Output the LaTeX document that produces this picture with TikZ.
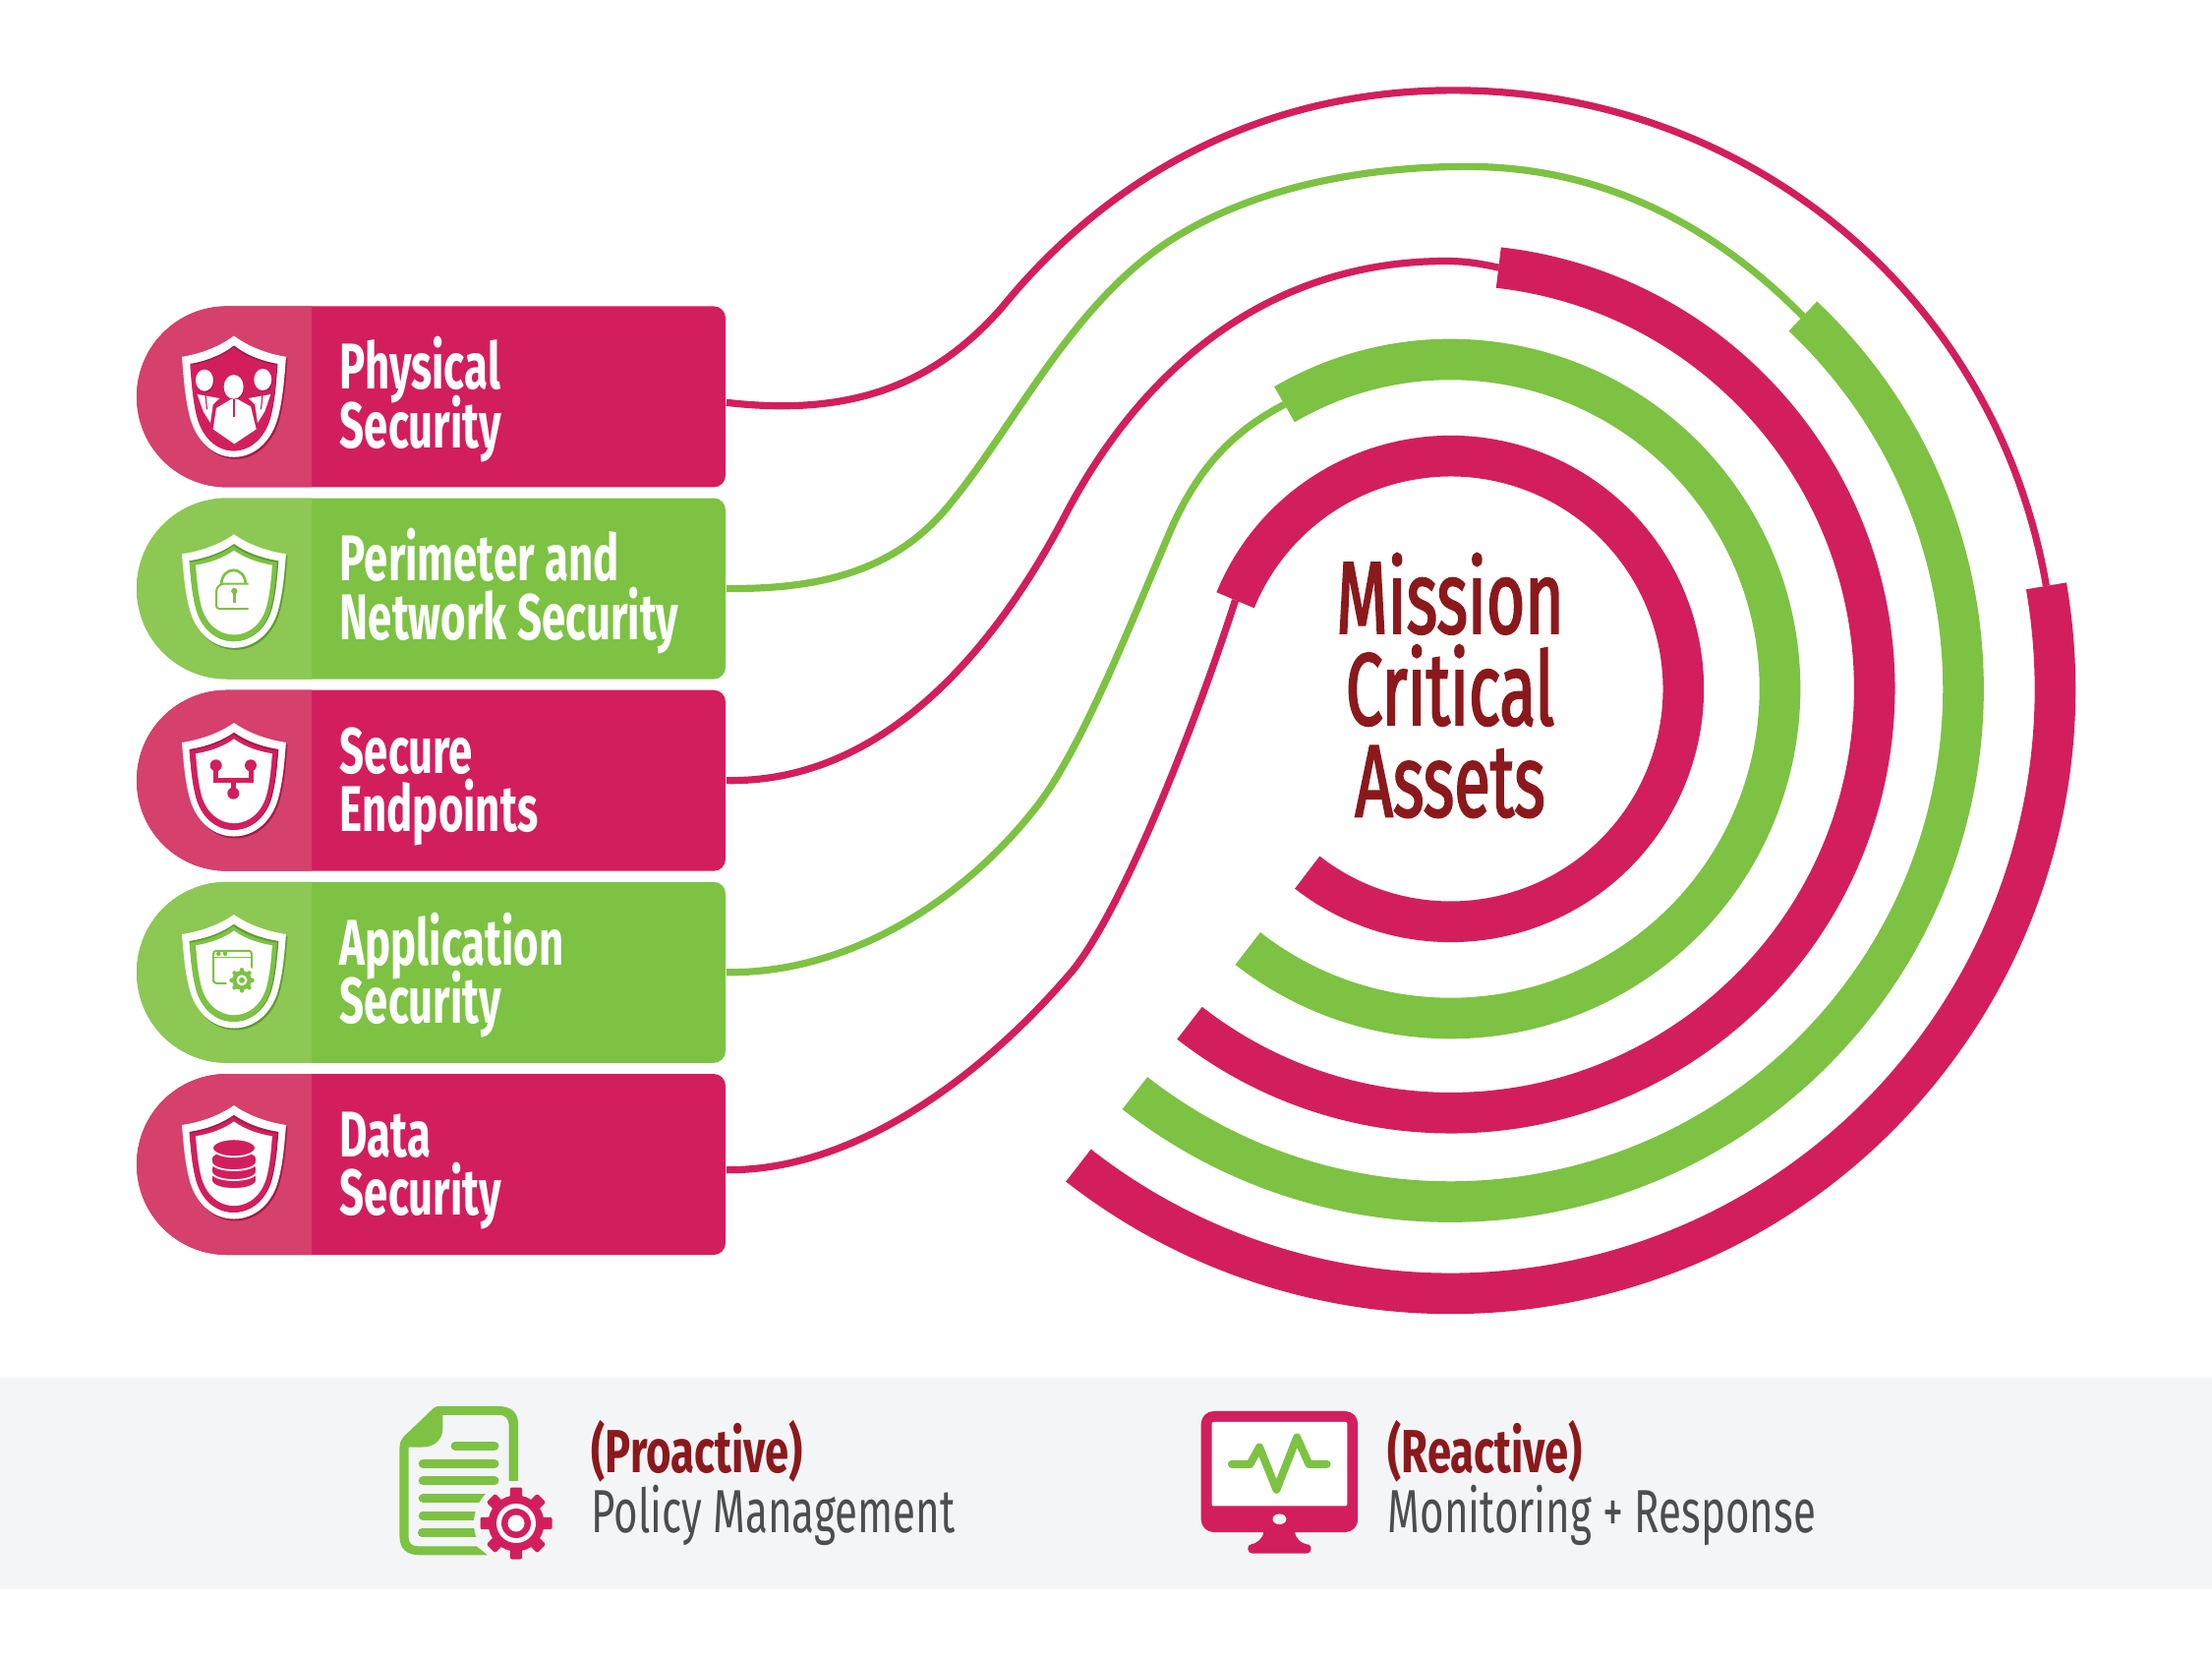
\documentclass[tikz,border=0pt]{standalone}
\usepackage{fontspec}
\usetikzlibrary{calc}
\newfontfamily\cond[FakeStretch=0.665]{Fira Sans}
\newfontfamily\condc[FakeStretch=0.645,FakeBold=1.8]{Fira Sans}
\newfontfamily\condr[FakeStretch=0.68]{Fira Sans}
\newfontfamily\condf[FakeStretch=0.705]{Fira Sans}
\newcommand\tightlines{\lineskiplimit=-30pt\relax}
\newcommand\twolines[2]{\spaceskip=3pt\relax\rule{0pt}{18.6pt}#1\\#2\rule[-6pt]{0pt}{6pt}}
\definecolor{pinkc}{HTML}{D31E5E}
\definecolor{pinkl}{HTML}{D6406C}
\definecolor{pinkd}{HTML}{A31A4B}
\definecolor{greenc}{HTML}{7DC243}
\definecolor{greenl}{HTML}{8CC853}
\definecolor{greend}{HTML}{5F9A33}
\definecolor{maroon}{HTML}{8B191C}
\definecolor{greytx}{HTML}{4D4D4F}
\definecolor{bandbg}{HTML}{F4F5F7}
\tikzset{
  ringarc/.style={line width=0.416cm,line cap=butt},
  wire/.style={line width=0.072cm,line cap=butt},
  boxlabel/.style={font=\cond\bfseries\fontsize{18.7}{16.9}\selectfont\tightlines,text=white,align=left,
    text width=3.63cm,inner xsep=0.29cm,inner ysep=0pt,minimum height=1.84cm},
  footlabel/.style={font=\condr\fontsize{17.6}{17.3}\selectfont\tightlines,text=greytx,align=left,inner sep=0pt},
  centerlabel/.style={font=\condc\fontsize{29.7}{26.5}\selectfont\tightlines,text=maroon,align=center,inner sep=0pt},
  docbar/.style={greenc,line width=0.09cm,line cap=round},
}
\newcommand\secbase[3]{%
  \begin{scope}[shift={(139,#1)}]
    \fill[#2] (92,0) [rounded corners=0.12cm] -- (599,0) -- (599,184) [sharp corners] -- (92,184)
      .. controls (41,184) and (0,143) .. (0,92) .. controls (0,41) and (41,0) .. (92,0) -- cycle;
    \fill[#3] (92,0) -- (178,0) -- (178,184) -- (92,184)
      .. controls (41,184) and (0,143) .. (0,92) .. controls (0,41) and (41,0) .. (92,0) -- cycle;
  \end{scope}}
\newcommand\shieldlayer[4]{% xscale yscale colour offset
  \begin{scope}[shift={(#4)},shift={(99,90)},xscale=#1,yscale=#2,shift={(-99,-90)}]
    \fill[#3] (99,32) .. controls (85,42) and (66,49) .. (46,52)
      .. controls (48,75) and (49,88) .. (53,105)
      .. controls (59,132) and (78,147.5) .. (99,147.5)
      .. controls (120,147.5) and (139,132) .. (145,105)
      .. controls (149,88) and (150,75) .. (152,52)
      .. controls (132,49) and (113,42) .. (99,32) -- cycle;
  \end{scope}}
\newcommand\stdshield[3]{% main dark yoffset
  \begin{scope}[shift={(0,#3)}]
  \shieldlayer{1}{1}{#2}{1.5,2}
  \shieldlayer{1}{1}{white}{0,0}
  \shieldlayer{0.857}{0.857}{#2}{0,1.5}
  \shieldlayer{0.84}{0.84}{#1}{-0.7,2.6}
  \shieldlayer{0.735}{0.742}{white}{0,1.5}
  \end{scope}}
\newcommand\gearshape[4]{%
  \begin{scope}[shift={(#1,#2)}]
    \fill[#4] (0,0) circle[radius={0.78*#3}];
    \foreach \a in {0,45,...,315}{
      \fill[#4,rotate=\a,rounded corners=0.02cm] ({-0.17*#3},0) rectangle ({0.17*#3},{#3});
    }
  \end{scope}}
\begin{document}
\begin{tikzpicture}[x=0.01cm,y=-0.01cm]
\useasboundingbox (0,0) rectangle (2250,1687);
\fill[white] (0,0) rectangle (2250,1687);
\fill[bandbg] (0,1401) rectangle (2250,1616);

% boxes
\secbase{311.4}{pinkc}{pinkl}
\secbase{506.5}{greenc}{greenl}
\secbase{701.7}{pinkc}{pinkl}
\secbase{896.8}{greenc}{greenl}
\secbase{1092}{pinkc}{pinkl}

% icon 1: people
\begin{scope}[shift={(139,311.4)}]
  \shieldlayer{1}{1.068}{pinkd}{1.5,4}
  \shieldlayer{1}{1.068}{white}{0,2}
  \shieldlayer{0.84}{0.926}{pinkd}{0,3.7}
  \shieldlayer{0.83}{0.91}{pinkc}{-0.5,4.7}
  \fill[pinkd] (99.5,83) ellipse[x radius=10,y radius=12.3];
  \fill[pinkd] (70,76.3) ellipse[x radius=9,y radius=11];
  \fill[pinkd] (129,75.6) ellipse[x radius=9,y radius=11];
  \fill[white] (98.7,82) ellipse[x radius=10,y radius=12.3];
  \fill[white] (69,75.3) ellipse[x radius=9,y radius=11];
  \fill[white] (128.3,74.6) ellipse[x radius=9,y radius=11];
  \fill[white] (96,94.6) -- (102.7,94.6) -- (116,102) -- (121.7,125) -- (99.3,140) -- (77.7,125) -- (81,103.6) -- cycle;
  \fill[white] (61.7,89.6) -- (84.3,93.6) -- (77.7,100) -- (75,118.6) -- (67.7,107) -- cycle;
  \fill[white] (136.3,89.6) -- (113.7,93.6) -- (120.3,100) -- (123,118.6) -- (130.3,107) -- cycle;
  \draw[pinkc,line width=0.012cm] (99,95) -- (99,113);
  \draw[pinkc,line width=0.012cm] (70,90) -- (71.5,105);
  \draw[pinkc,line width=0.012cm] (128,90) -- (126.5,105);
\end{scope}

% icon 2: lock
\begin{scope}[shift={(139,506.5)}]
  \stdshield{greenc}{greend}{4.8}
  \draw[greenc,line width=0.027cm] (86,89) .. controls (86,68) and (111,68) .. (111,89);
  \fill[white] (82,87) rectangle (113.5,113.5);
  \draw[greenc,line width=0.02cm,rounded corners=0.03cm] (113.5,87) -- (86,87) -- (81,92) -- (81,112.5) -- (113.5,112.5);
  \fill[greenc] (99.3,94.5) circle[radius=3.2];
  \fill[greenc] (97.8,95) rectangle (100.8,106);
\end{scope}

% icon 3: endpoints
\begin{scope}[shift={(139,701.7)}]
  \stdshield{pinkc}{pinkd}{1.3}
  \draw[pinkc,line width=0.05cm] (80.7,76.6) -- (80.7,91.6) -- (116,91.6) -- (116,76.6);
  \draw[pinkc,line width=0.05cm] (98.3,91.6) -- (98.3,105);
  \fill[pinkc] (80.7,76.6) circle[radius=6];
  \fill[pinkc] (116,76.6) circle[radius=6];
  \fill[pinkc] (98.3,105) circle[radius=6];
\end{scope}

% icon 4: application
\begin{scope}[shift={(139,896.8)}]
  \stdshield{greenc}{greend}{1.2}
  \draw[greenc,line width=0.02cm,rounded corners=0.03cm] (78,70) rectangle (117,103);
  \draw[greenc,line width=0.015cm] (78,76.5) -- (117,76.5);
  \fill[greenc] (83.3,73) circle[radius=2.3];
  \fill[greenc] (90,73) circle[radius=2.3];
  \fill[white] (107,100) circle[radius=16];
  \gearshape{107}{100}{12.7}{greenc}
  \fill[white] (107,100) circle[radius=5.5];
  \fill[greenc] (107,100) circle[radius=3];
\end{scope}

% icon 5: data
\begin{scope}[shift={(139,1092)}]
  \stdshield{pinkc}{pinkd}{0}
  \foreach \cy in {105,96,86}{
    \filldraw[fill=pinkc,draw=white,line width=0.018cm] (76,\cy) .. controls (76,{\cy-11}) and (122,{\cy-11}) .. (122,\cy)
      -- (122,{\cy+3}) .. controls (122,{\cy+15}) and (76,{\cy+15}) .. (76,{\cy+3}) -- cycle;
  }
  \filldraw[fill=pinkc,draw=white,line width=0.018cm] (99,75.3) ellipse[x radius=22,y radius=9];
\end{scope}

% labels
\node[boxlabel] (b1) at (527.5,403.3) {\twolines{Physical}{Security}};
\node[boxlabel] (b2) at (527.5,598.4) {\twolines{Perimeter and}{Network Security}};
\node[boxlabel] (b3) at (527.5,793.6) {\twolines{Secure}{Endpoints}};
\node[boxlabel] (b4) at (527.5,988.7) {\twolines{Application}{Security}};
\node[boxlabel] (b5) at (527.5,1183.9) {\twolines{Data}{Security}};

% rings
\coordinate (r1) at ({1475.5+236.8*cos(157.6)},{700.5-236.8*sin(157.6)});
\coordinate (r2) at ({1475.5+335*cos(120.3)},{700.5-335*sin(120.3)});
\coordinate (r3) at ({1475.5+431.2*cos(83.5)},{700.5-431.2*sin(83.5)});
\coordinate (r4) at ({1475.5+521.6*cos(46.6)},{700.5-521.6*sin(46.6)});
\coordinate (r5) at ({1475.5+614.9*cos(9.8)},{700.5-614.9*sin(9.8)});

% connectors, in the units of a 1568-wide picture
\begin{scope}[x=0.01435cm,y=-0.01435cm]
  \draw[wire,pinkc] ([yshift=-0.06cm]b1.east) .. controls (600,295) and (660,275) .. (710,218)
    .. controls (790,120) and (900,64) .. (1030,64)
    .. controls (1238,64) and (1415,209) .. (r5);
  \draw[wire,greenc] (b2.east) .. controls (590,418) and (640,400) .. (675,355)
    .. controls (720,300) and (760,215) .. (830,170)
    .. controls (885,135) and (960,118) .. (1040,118)
    .. controls (1130,118) and (1210,155) .. (r4);
  \draw[wire,pinkc] (b3.east) .. controls (620,555) and (700,470) .. (755,365)
    .. controls (810,260) and (900,185) .. (1025,185)
    .. controls (1040,185) and (1050,187) .. (r3);
  \draw[wire,greenc] (b4.east) .. controls (600,690) and (680,640) .. (732,575)
    .. controls (765,535) and (800,445) .. (830,375)
    .. controls (850,330) and (875,305) .. (r2);
  \draw[wire,pinkc] ([yshift=-0.057cm]b5.east) .. controls (600,830) and (690,770) .. (760,688)
    .. controls (795,645) and (845,520) .. (r1);
\end{scope}

\draw[ringarc,pinkc] (r1) arc[start angle=-157.6,end angle=128,radius=236.8];
\draw[ringarc,greenc] (r2) arc[start angle=-120.3,end angle=128,radius=335];
\draw[ringarc,pinkc] (r3) arc[start angle=-83.5,end angle=128,radius=431.2];
\draw[ringarc,greenc] (r4) arc[start angle=-46.6,end angle=128,radius=521.6];
\draw[ringarc,pinkc] (r5) arc[start angle=-9.8,end angle=128,radius=614.9];

\node[centerlabel] (mca) at (1475,697) {Mission\\Critical\\Assets};

% document icon
\begin{scope}[shift={(380,1400)}]
\begin{scope}[x=0.003954cm,y=-0.003333cm]
  \fill[greenc] (155,95) .. controls (160,90) and (165,90) .. (170,90) -- (320,90)
    .. controls (355,90) and (372,110) .. (372,145) -- (372,318) -- (348,318) -- (348,150)
    .. controls (348,128) and (340,117) .. (322,117) -- (178,117) -- (178,155)
    .. controls (178,195) and (155,215) .. (125,215) -- (90,215) -- (90,490)
    .. controls (90,508) and (98,518) .. (115,518) -- (265,518) -- (293,545) -- (120,545)
    .. controls (85,545) and (67,525) .. (67,490) -- (67,215)
    .. controls (67,200) and (72,190) .. (80,180) -- cycle;
  \draw[docbar] (210,211) -- (311,211);
  \draw[docbar] (127,265) -- (311,265);
  \draw[docbar] (127,318) -- (311,318);
  \draw[docbar] (127,371) -- (320,371);
  \draw[docbar] (127,424) -- (320,424);
  \draw[docbar] (125,477) -- (320,477);
\end{scope}
\fill[bandbg] (145,149) circle[radius=43];
\gearshape{145}{149}{36.5}{pinkc}
\fill[white] (145,149) circle[radius=20];
\fill[pinkc] (145,149) circle[radius=15];
\fill[white] (145,149) circle[radius=8.5];
\end{scope}

% monitor icon
\begin{scope}[shift={(1200,1400)}]
\begin{scope}[x=0.004337cm,y=-0.003333cm]
  \fill[pinkc,rounded corners=0.13cm] (50,105) rectangle (418,475);
  \fill[white,rounded corners=0.02cm] (75,138) rectangle (393,395);
  \fill[bandbg] (234,435) circle[radius=16];
  \fill[pinkc] (197,470) .. controls (197,495) and (180,510) .. (165,513)
    .. controls (157,515) and (158,540) .. (170,540) -- (298,540)
    .. controls (310,540) and (311,515) .. (303,513)
    .. controls (285,510) and (270,495) .. (270,470) -- cycle;
  \draw[greenc,line width=0.08cm,line cap=round,line join=round]
    (122,267) -- (165,267) -- (187,215) -- (227,345) -- (275,185) -- (303,267) -- (345,267);
\end{scope}
\end{scope}

% footer text
\node[footlabel,anchor=west] (pm) at (601,1508) {{\condf\bfseries\color{maroon}(Proactive)}\\Policy Management};
\node[footlabel,anchor=west] (mr) at (1411,1508) {{\condf\bfseries\color{maroon}(Reactive)}\\Monitoring + Response};
\end{tikzpicture}
\end{document}
